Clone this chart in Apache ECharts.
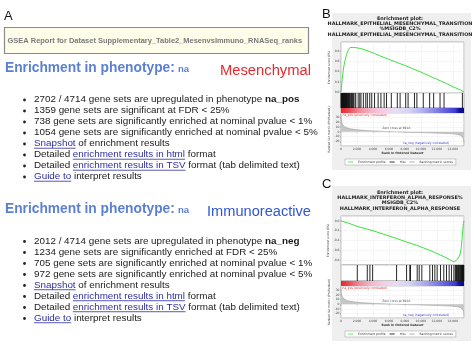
<!DOCTYPE html>
<html><head><meta charset="utf-8">
<script src="https://cdn.jsdelivr.net/npm/echarts@6/dist/echarts.min.js"></script>
<style>html,body{margin:0;padding:0;background:#fff}#c{width:474px;height:355px}</style>
</head><body><div id="c"></div>
<script>
// ================= DATA =================
const datasetName = 'GSEA Report for Dataset Supplementary_Table2_MesenvsImmuno_RNASeq_ranks';
const phenotypes = ['Mesenchymal', 'Immunoreactive'];
const phenoTags = ['na_pos', 'na_neg'];
const totalSets = 4714;
const upCounts = [2702, 2012];
const fdrCounts = [1359, 1234];
const p1Counts = [738, 705];
const p5Counts = [1054, 972];
const geneSetTitles = [
  ['Enrichment plot:', 'HALLMARK_EPITHELIAL_MESENCHYMAL_TRANSITION', '%MSIGDB_C2%', 'HALLMARK_EPITHELIAL_MESENCHYMAL_TRANSITION'],
  ['Enrichment plot:', 'HALLMARK_INTERFERON_ALPHA_RESPONSE%', 'MSIGDB_C2%', 'HALLMARK_INTERFERON_ALPHA_RESPONSE']
];
const listSize = 15400;
const zeroCross = 6918;
const rankTickStep = 2000;
// running enrichment score [rank, ES]
const esEMT = [[0,0],[150,0.25],[300,0.45],[500,0.62],[700,0.74],[900,0.82],[1100,0.87],[1300,0.88],[1600,0.875],[2000,0.865],[2500,0.85],[3000,0.825],[3600,0.79],[4200,0.755],[5000,0.70],[6000,0.64],[7000,0.58],[8000,0.52],[9000,0.455],[10000,0.39],[11000,0.32],[12000,0.25],[13000,0.18],[14000,0.105],[15000,0.035],[15200,0.03],[15400,0]];
const esIFN = [[0,0],[1000,-0.05],[2000,-0.11],[2050,-0.10],[3300,-0.17],[4000,-0.20],[5500,-0.28],[7000,-0.36],[8200,-0.43],[9500,-0.50],[11100,-0.60],[12500,-0.70],[13600,-0.79],[14150,-0.84],[14400,-0.83],[14600,-0.78],[14800,-0.72],[14950,-0.66],[15050,-0.55],[15150,-0.38],[15250,-0.18],[15330,-0.05],[15400,0]];
// hit ranks
const hitsEMT = [10,40,80,120,150,190,230,260,300,350,390,420,470,510,560,600,650,700,760,800,870,930,1000,1080,1150,1250,1330,1450,1560,1750,1850,2150,2350,2500,2800,3100,3300,3600,3850,4200,4650,5000,5400,5700,6300,7050,7400,8100,8400,9200,9500,10300,11100,11600,12400,12900,15200];
const hitsIFN = [2040,3290,3620,3960,6960,8210,8620,8700,9540,9790,10120,11120,11460,11750,12040,12460,12870,13210,13540,13830,14130,14300,14380,14450,14540,14620,14700,14780,14870,14930,15000,15060,15120,15170,15210,15250,15290,15330,15370];
// ranked list metric [rank, value]
const rankedMetric = [[0,38],[20,30],[50,24],[100,19],[200,15],[350,12],[500,10],[800,8],[1200,6.5],[1800,5],[2500,3.8],[3500,2.6],[4500,1.7],[5500,1],[6918,0],[8000,-0.6],[9000,-1.1],[10000,-1.6],[11000,-2.1],[12000,-2.7],[13000,-3.3],[14000,-4.2],[14600,-5.5],[15000,-7.5],[15200,-10],[15320,-14],[15380,-20],[15400,-24]];
const esSets = [esEMT, esIFN];
const hitSets = [hitsEMT, hitsIFN];

// ================= STYLE / LAYOUT =================
const SANS = '"Liberation Sans", Arial, sans-serif';
const GF = '"DejaVu Sans", sans-serif';
const LINK = '#2e2ea0';
const HEAD_BLUE = '#5b80d3';
const PL = { left: 341, width: 123 };
const PANELS = [
  { es:[42,51], hits:[93,15], bar:[108,5], met:[113,33], esRange:[-0.02,0.98], bg:[332,13,139,157], titleY:19, letterY:14, legendTop:159 },
  { es:[216,49], hits:[265,16], bar:[281,5], met:[286,32], esRange:[-0.9,0.1], bg:[332,186,139,155], titleY:193, letterY:184, legendTop:331 }
];
const BAR_STOPS = [[0,'#e8262b'],[0.06,'#ea4a55'],[0.15,'#f08c9a'],[0.25,'#f5b6cc'],[0.35,'#f2d0e8'],[0.45,'#e6dcf4'],[0.55,'#d4d4f4'],[0.65,'#b5b5ee'],[0.75,'#8c8ce6'],[0.85,'#6060dc'],[0.93,'#3c3cd0'],[0.96,'#14149c'],[1,'#0c0c80']];

const mctx = document.createElement('canvas').getContext('2d');
function measure(t, size, bold){ mctx.font = (bold?'bold ':'') + size + 'px "Liberation Sans"'; return mctx.measureText(t).width; }
function fit(t, target, bold){ return 10 * target / measure(t, 10, bold); }
function txt(t, x, y, size, fill, bold, align, family){
  return { type:'text', z:50, style:{ text:t, x:x, y:y, fontSize:size, fontFamily:family||SANS, fontWeight:bold?'bold':'normal', fill:fill, verticalAlign:'middle', align:align||'left' } };
}

const graphics = [];
// ---- Panel A ----
graphics.push(txt('A', 4, 16, 13, '#111'));
graphics.push({ type:'rect', z:40, shape:{ x:4.5, y:27.5, width:304, height:26 }, style:{ fill:'#fdfde9', stroke:'#8a8a8a', lineWidth:1.2 } });
graphics.push(txt(datasetName, 7.5, 41, fit(datasetName, 295, true), '#7a7a7a', true));

const bf = fit(`${p5Counts[0]} gene sets are significantly enriched at nominal pvalue < 5%`, 284, false);
function rows(k){
  return [
    [{t:`${upCounts[k]} / ${totalSets} gene sets are upregulated in phenotype `},{t:phenoTags[k], b:1}],
    [{t:`${fdrCounts[k]} gene sets are ${k ? 'significantly enriched' : 'significant'} at FDR < 25%`}],
    [{t:`${p1Counts[k]} gene sets are significantly enriched at nominal pvalue < 1%`}],
    [{t:`${p5Counts[k]} gene sets are significantly enriched at nominal pvalue < 5%`}],
    [{t:'Snapshot', l:1},{t:' of enrichment results'}],
    [{t:'Detailed '},{t:'enrichment results in html', l:1},{t:' format'}],
    [{t:'Detailed '},{t:'enrichment results in TSV', l:1},{t:' format (tab delimited text)'}],
    [{t:'Guide to', l:1},{t:' interpret results'}]
  ];
}
function addRow(parts, y){
  let x = 34;
  graphics.push({ type:'circle', z:50, shape:{ cx:24.5, cy:y+0.5, r:1.4 }, style:{ fill:'#222' } });
  parts.forEach(pt => {
    const w = measure(pt.t, bf, pt.b);
    graphics.push(txt(pt.t, x, y, bf, pt.l ? LINK : '#1a1a1a', pt.b));
    if (pt.l) graphics.push({ type:'line', z:50, shape:{ x1:x, y1:y+bf*0.48, x2:x+w, y2:y+bf*0.48 }, style:{ stroke:LINK, lineWidth:0.8 } });
    x += w;
  });
}
const headFs = fit('Enrichment in phenotype:', 170, true);
const sectionY = [68, 209];
const phenoStyle = [{ x:220, w:91, c:'#e8292e', dy:3 }, { x:207, w:104, c:'#2f55d8', dy:3 }];
[0,1].forEach(k => {
  const y0 = sectionY[k];
  graphics.push(txt('Enrichment in phenotype:', 5, y0, headFs, HEAD_BLUE, true));
  graphics.push(txt('na', 178, y0 + 1.5, 9.5, HEAD_BLUE, true));
  const ps = phenoStyle[k];
  graphics.push(txt(phenotypes[k], ps.x, y0 + ps.dy, fit(phenotypes[k], ps.w, false), ps.c, false));
  const startY = k ? 241 : 99.5;
  rows(k).forEach((r, i) => addRow(r, startY + 11 * i));
});

// ---- Panels B & C ----
const grids = [], xAxes = [], yAxes = [], series = [], legends = [];
const axLabel = { fontSize:3, fontFamily:GF, color:'#444', margin:1.5 };
const tickS = { show:true, length:1, lineStyle:{ color:'#777', width:0.4 } };
const splitS = { show:true, lineStyle:{ color:'#ececec', width:0.5 } };
PANELS.forEach((P, p) => {
  const base = 4 * p;
  graphics.push({ type:'rect', z:-10, shape:{ x:P.bg[0], y:P.bg[1], width:P.bg[2], height:P.bg[3] }, style:{ fill:'#efefef' } });
  graphics.push(txt(p ? 'C' : 'B', 322, P.letterY, 13, '#111'));
  geneSetTitles[p].forEach((t, i) => graphics.push(txt(t, 400, P.titleY + i * 5.1, 4.9, '#222', true, 'center', GF)));
  graphics.push(txt(phenoTags[0] + ' (positively correlated)', 342.5, P.met[0] + 2.5, 3, '#e03030', false, 'left', GF));
  graphics.push(txt(phenoTags[1] + ' (negatively correlated)', 449, P.met[0] + P.met[1] - 2.5, 3, '#3c3ccc', false, 'right', GF));

  [P.es, P.hits, P.bar, P.met].forEach(([top, h]) => grids.push({ left:PL.left, width:PL.width, top:top, height:h, show:true, backgroundColor:'#fff', borderColor:'#8c8c8c', borderWidth:0.6 }));
  // ES
  xAxes.push({ gridIndex:base, type:'value', min:0, max:listSize, interval:rankTickStep, axisLabel:{ show:false }, axisTick:{ show:false }, axisLine:{ show:false }, splitLine:splitS });
  yAxes.push({ gridIndex:base, type:'value', min:P.esRange[0], max:P.esRange[1], splitNumber:5,
    axisLabel:Object.assign({}, axLabel, { showMinLabel:false, showMaxLabel:false, formatter:v => v.toFixed(1) }),
    axisTick:tickS, axisLine:{ show:false }, splitLine:splitS,
    name:'Enrichment score (ES)', nameLocation:'middle', nameGap:8, nameTextStyle:{ fontSize:3, fontFamily:GF, color:'#333' } });
  // hits
  xAxes.push({ gridIndex:base+1, type:'value', min:0, max:listSize, show:false });
  yAxes.push({ gridIndex:base+1, type:'value', min:0, max:1, show:false });
  // colour bar
  xAxes.push({ gridIndex:base+2, type:'value', min:0, max:listSize, show:false });
  yAxes.push({ gridIndex:base+2, type:'value', min:0, max:1, show:false });
  // metric
  xAxes.push({ gridIndex:base+3, type:'value', min:0, max:listSize, interval:rankTickStep,
    axisLabel:Object.assign({}, axLabel, { showMaxLabel:false, formatter:v => v.toLocaleString('en-US') }),
    axisTick:tickS, axisLine:{ show:false }, splitLine:splitS,
    name:'Rank in Ordered Dataset', nameLocation:'middle', nameGap:5.5, nameTextStyle:{ fontSize:3, fontWeight:'bold', fontFamily:GF, color:'#333' } });
  yAxes.push({ gridIndex:base+3, type:'value', min:-30, max:40, interval:10,
    axisLabel:Object.assign({}, axLabel, { showMinLabel:false, showMaxLabel:false }),
    axisTick:tickS, axisLine:{ show:false }, splitLine:splitS,
    name:'Ranked list metric (PreRanked)', nameLocation:'middle', nameGap:8, nameTextStyle:{ fontSize:3, fontFamily:GF, color:'#333' } });

  series.push({ type:'line', name:'Enrichment profile', xAxisIndex:base, yAxisIndex:base, data:esSets[p], showSymbol:false, symbol:'none',
    lineStyle:{ color:'#3ee23e', width:1 }, itemStyle:{ color:'#3ee23e' }, z:5 });
  series.push({ type:'custom', name:'Hits', xAxisIndex:base+1, yAxisIndex:base+1, data:hitSets[p].map(r => [r, 0.5]),
    encode:{ x:0, y:1 }, itemStyle:{ color:'#000' },
    renderItem:(params, api) => {
      const cs = params.coordSys; const x = api.coord([api.value(0), 0])[0];
      return { type:'line', shape:{ x1:x, y1:cs.y, x2:x, y2:cs.y + cs.height }, style:{ stroke:'#111', lineWidth:0.9 } };
    } });
  series.push({ type:'custom', name:'colorbar', xAxisIndex:base+2, yAxisIndex:base+2, data:[[0, listSize]],
    encode:{ x:[0, 1] },
    renderItem:(params, api) => {
      const cs = params.coordSys; const a = api.coord([api.value(0), 0]); const b = api.coord([api.value(1), 0]);
      return { type:'rect', shape:{ x:a[0], y:cs.y, width:b[0] - a[0], height:cs.height },
        style:{ fill:{ type:'linear', x:0, y:0, x2:1, y2:0, colorStops:BAR_STOPS.map(s => ({ offset:s[0], color:s[1] })) } } };
    } });
  series.push({ type:'line', name:'Ranking metric scores', xAxisIndex:base+3, yAxisIndex:base+3, data:rankedMetric, showSymbol:false, symbol:'none',
    lineStyle:{ color:'#9a9a9a', width:0.5 }, itemStyle:{ color:'#9a9a9a' }, areaStyle:{ color:'#c6c6c6', opacity:1 },
    markPoint:{ symbol:'circle', symbolSize:0, data:[{ coord:[zeroCross, 0], value:zeroCross }],
      label:{ show:true, position:'top', distance:2, formatter:'Zero cross at {c}', fontSize:3, fontFamily:GF, color:'#555' } } });

  legends.push({ top:P.legendTop, left:345, orient:'horizontal', selectedMode:false,
    data:[{ name:'Enrichment profile', icon:'rect' }, { name:'Hits', icon:'rect' }, { name:'Ranking metric scores', icon:'rect' }],
    itemWidth:5, itemHeight:0.8, itemGap:4, padding:[1.5, 3],
    textStyle:{ fontSize:3, fontFamily:GF, color:'#333' },
    backgroundColor:'#fff', borderColor:'#999', borderWidth:0.5 });
});

const chart = echarts.init(document.getElementById('c'), null, { renderer:'canvas', width:474, height:355 });
chart.setOption({
  animation:false,
  backgroundColor:'#ffffff',
  grid:grids, xAxis:xAxes, yAxis:yAxes, series:series, legend:legends,
  graphic:{ elements:graphics }
});
</script></body></html>
